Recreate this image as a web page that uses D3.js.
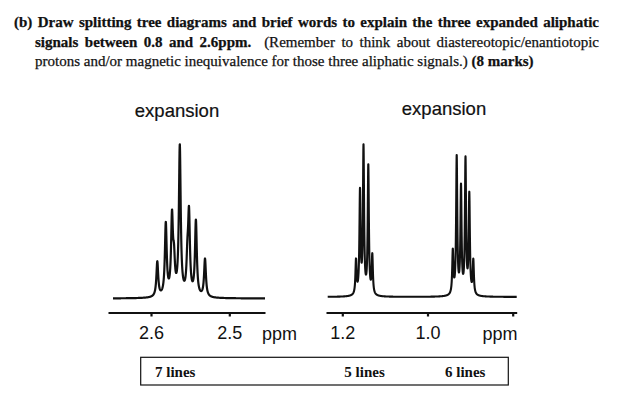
<!DOCTYPE html>
<html><head><meta charset="utf-8">
<script src="https://cdn.jsdelivr.net/npm/d3@7"></script>
<style>body{margin:0;background:#fff} svg{display:block}</style>
</head><body>
<svg id="c" width="634" height="413"></svg>
<script>
// ---------- data ----------
const leftPeakPpm    = [2.59195, 2.58110, 2.57318, 2.57063, 2.56322, 2.55351, 2.55147, 2.54266, 2.53103];
const leftPeakHeight = [35,      72,      76,      30,      149,     30,      78,      75,      38];
const rightPeakPpm    = [1.16784, 1.15845, 1.15023, 1.13897, 1.12958, 0.94061, 0.93146, 0.92136, 0.91080, 0.90188, 0.89249];
const rightPeakHeight = [34,      102,     146,     128,     39,      43,      137,     106,     134,     99,      34];
const leftTicks = [2.6, 2.5];
const rightTicks = [1.2, 1.0, 0.8];
const rightTickLabels = ["1.2", "1.0", ""];
const axisUnit = "ppm";
const panelTitles = ["expansion", "expansion"];
const boxLabels = ["7 lines", "5 lines", "6 lines"];
const questionLines = [
  [{t: "(b) Draw splitting tree diagrams and brief words to explain the three expanded aliphatic", b: true}],
  [{t: "signals between 0.8 and 2.6ppm.", b: true}, {t: "(Remember to think about diastereotopic/enantiotopic", b: false}],
  [{t: "protons and/or magnetic inequivalence for those three aliphatic signals.)", b: false}, {t: " (8 marks)", b: true}]
];

const svg = d3.select("#c");
svg.append("rect").attr("width", 634).attr("height", 413).attr("fill", "#fff");
const ink = "#111";
const serif = "'Liberation Serif','Times New Roman',serif";
const sans = "'Liberation Sans',Arial,Helvetica,sans-serif";
const qSize = 15;

// ---------- question text ----------
function wordsOf(line) {
  const out = [];
  line.forEach((seg, si) => {
    seg.t.trim().split(/\s+/).forEach((w, wi) => out.push({w, b: seg.b, segStart: wi === 0 && si > 0}));
  });
  return out;
}
function justify(line, x0, x1, y) {
  const ws = wordsOf(line);
  const g = svg.append("g");
  const nodes = ws.map(d => g.append("text").attr("y", y).attr("font-family", serif)
    .attr("font-size", qSize).attr("font-weight", d.b ? "bold" : "normal").attr("fill", ink)
    .attr("stroke", ink).attr("stroke-width", 0.25).text(d.w));
  const widths = nodes.map(n => n.node().getComputedTextLength());
  const total = d3.sum(widths);
  const weights = ws.slice(1).map(d => d.segStart ? 2 : 1);
  const gap = (x1 - x0 - total) / d3.sum(weights);
  let x = x0;
  nodes.forEach((n, i) => { if (i > 0) x += gap * weights[i - 1]; n.attr("x", x); x += widths[i]; });
}
justify(questionLines[0], 14, 599, 27);
justify(questionLines[1], 35, 599, 46.5);
const t3 = svg.append("text").attr("x", 35).attr("y", 66).attr("font-family", serif)
  .attr("font-size", qSize).attr("fill", ink).attr("stroke", ink).attr("stroke-width", 0.25);
questionLines[2].forEach(s => t3.append("tspan").attr("font-weight", s.b ? "bold" : "normal").text(s.t));

// ---------- scales ----------
const xL = d3.scaleLinear().domain([2.65492, 2.45441]).range([108, 265]);
const xR = d3.scaleLinear().domain([1.23826, 0.79061]).range([326, 516.7]);
const yL = d3.scaleLinear().domain([0, 160]).range([298.5, 138.5]);
const yR = d3.scaleLinear().domain([0, 160]).range([297, 137]);

function spectrum(peaksP, peaksH, gamma, p0, p1) {
  const n = 3000, pts = [];
  for (let i = 0; i <= n; i++) pts.push(p0 + (p1 - p0) * i / n);
  peaksP.forEach(p => pts.push(p));
  pts.sort((a, b) => b - a);
  return pts.map(p => [p, d3.sum(peaksP, (c, i) => peaksH[i] / (1 + ((p - c) / gamma) ** 2))]);
}
const specL = spectrum(leftPeakPpm, leftPeakHeight, 0.0014, xL.invert(113), xL.invert(265));
const specR = spectrum(rightPeakPpm, rightPeakHeight, 0.0016, xR.invert(327.7), xR.invert(516.7));

svg.append("path").datum(specL)
  .attr("d", d3.line().x(d => xL(d[0])).y(d => yL(d[1])))
  .attr("fill", "none").attr("stroke", ink).attr("stroke-width", 2.2).attr("stroke-linejoin", "round");
svg.append("path").datum(specR)
  .attr("d", d3.line().x(d => xR(d[0])).y(d => yR(d[1])))
  .attr("fill", "none").attr("stroke", ink).attr("stroke-width", 2.1).attr("stroke-linejoin", "round");

// ---------- axes ----------
function styleAxis(g) {
  g.select(".domain").attr("stroke", ink).attr("stroke-width", 1.8);
  g.selectAll(".tick line").attr("stroke", ink).attr("stroke-width", 2.2);
  g.selectAll(".tick text").attr("fill", ink).attr("font-family", sans).attr("font-size", 18);
}
svg.append("g").attr("transform", "translate(0,312.5)")
  .call(d3.axisBottom(xL).tickValues(leftTicks).tickSize(4).tickSizeOuter(0).tickPadding(10)
    .tickFormat(d3.format(".1f")))
  .call(styleAxis);
svg.append("g").attr("transform", "translate(0,312.5)")
  .call(d3.axisBottom(xR).tickValues(rightTicks).tickSize(4).tickSizeOuter(0).tickPadding(10)
    .tickFormat((d, i) => rightTickLabels[i]))
  .call(styleAxis);
[[262, 339.5], [482.5, 339.5]].forEach(([x, y]) =>
  svg.append("text").attr("x", x).attr("y", y).attr("font-family", sans).attr("font-size", 18)
    .attr("fill", ink).text(axisUnit));

// ---------- panel titles ----------
[[177, 116.5], [444, 115]].forEach(([x, y], i) =>
  svg.append("text").attr("x", x).attr("y", y).attr("text-anchor", "middle")
    .attr("font-family", sans).attr("font-size", 18.5).attr("fill", ink)
    .attr("stroke", ink).attr("stroke-width", 0.2).text(panelTitles[i]));

// ---------- answer box ----------
svg.append("rect").attr("x", 140.7).attr("y", 357.3).attr("width", 367.6).attr("height", 27.7)
  .attr("fill", "none").attr("stroke", ink).attr("stroke-width", 1.2);
[155, 344.3, 445].forEach((x, i) =>
  svg.append("text").attr("x", x).attr("y", 376.5).attr("font-family", serif).attr("font-weight", "bold")
    .attr("font-size", 15).attr("fill", ink).text(boxLabels[i]));
</script>
</body></html>
